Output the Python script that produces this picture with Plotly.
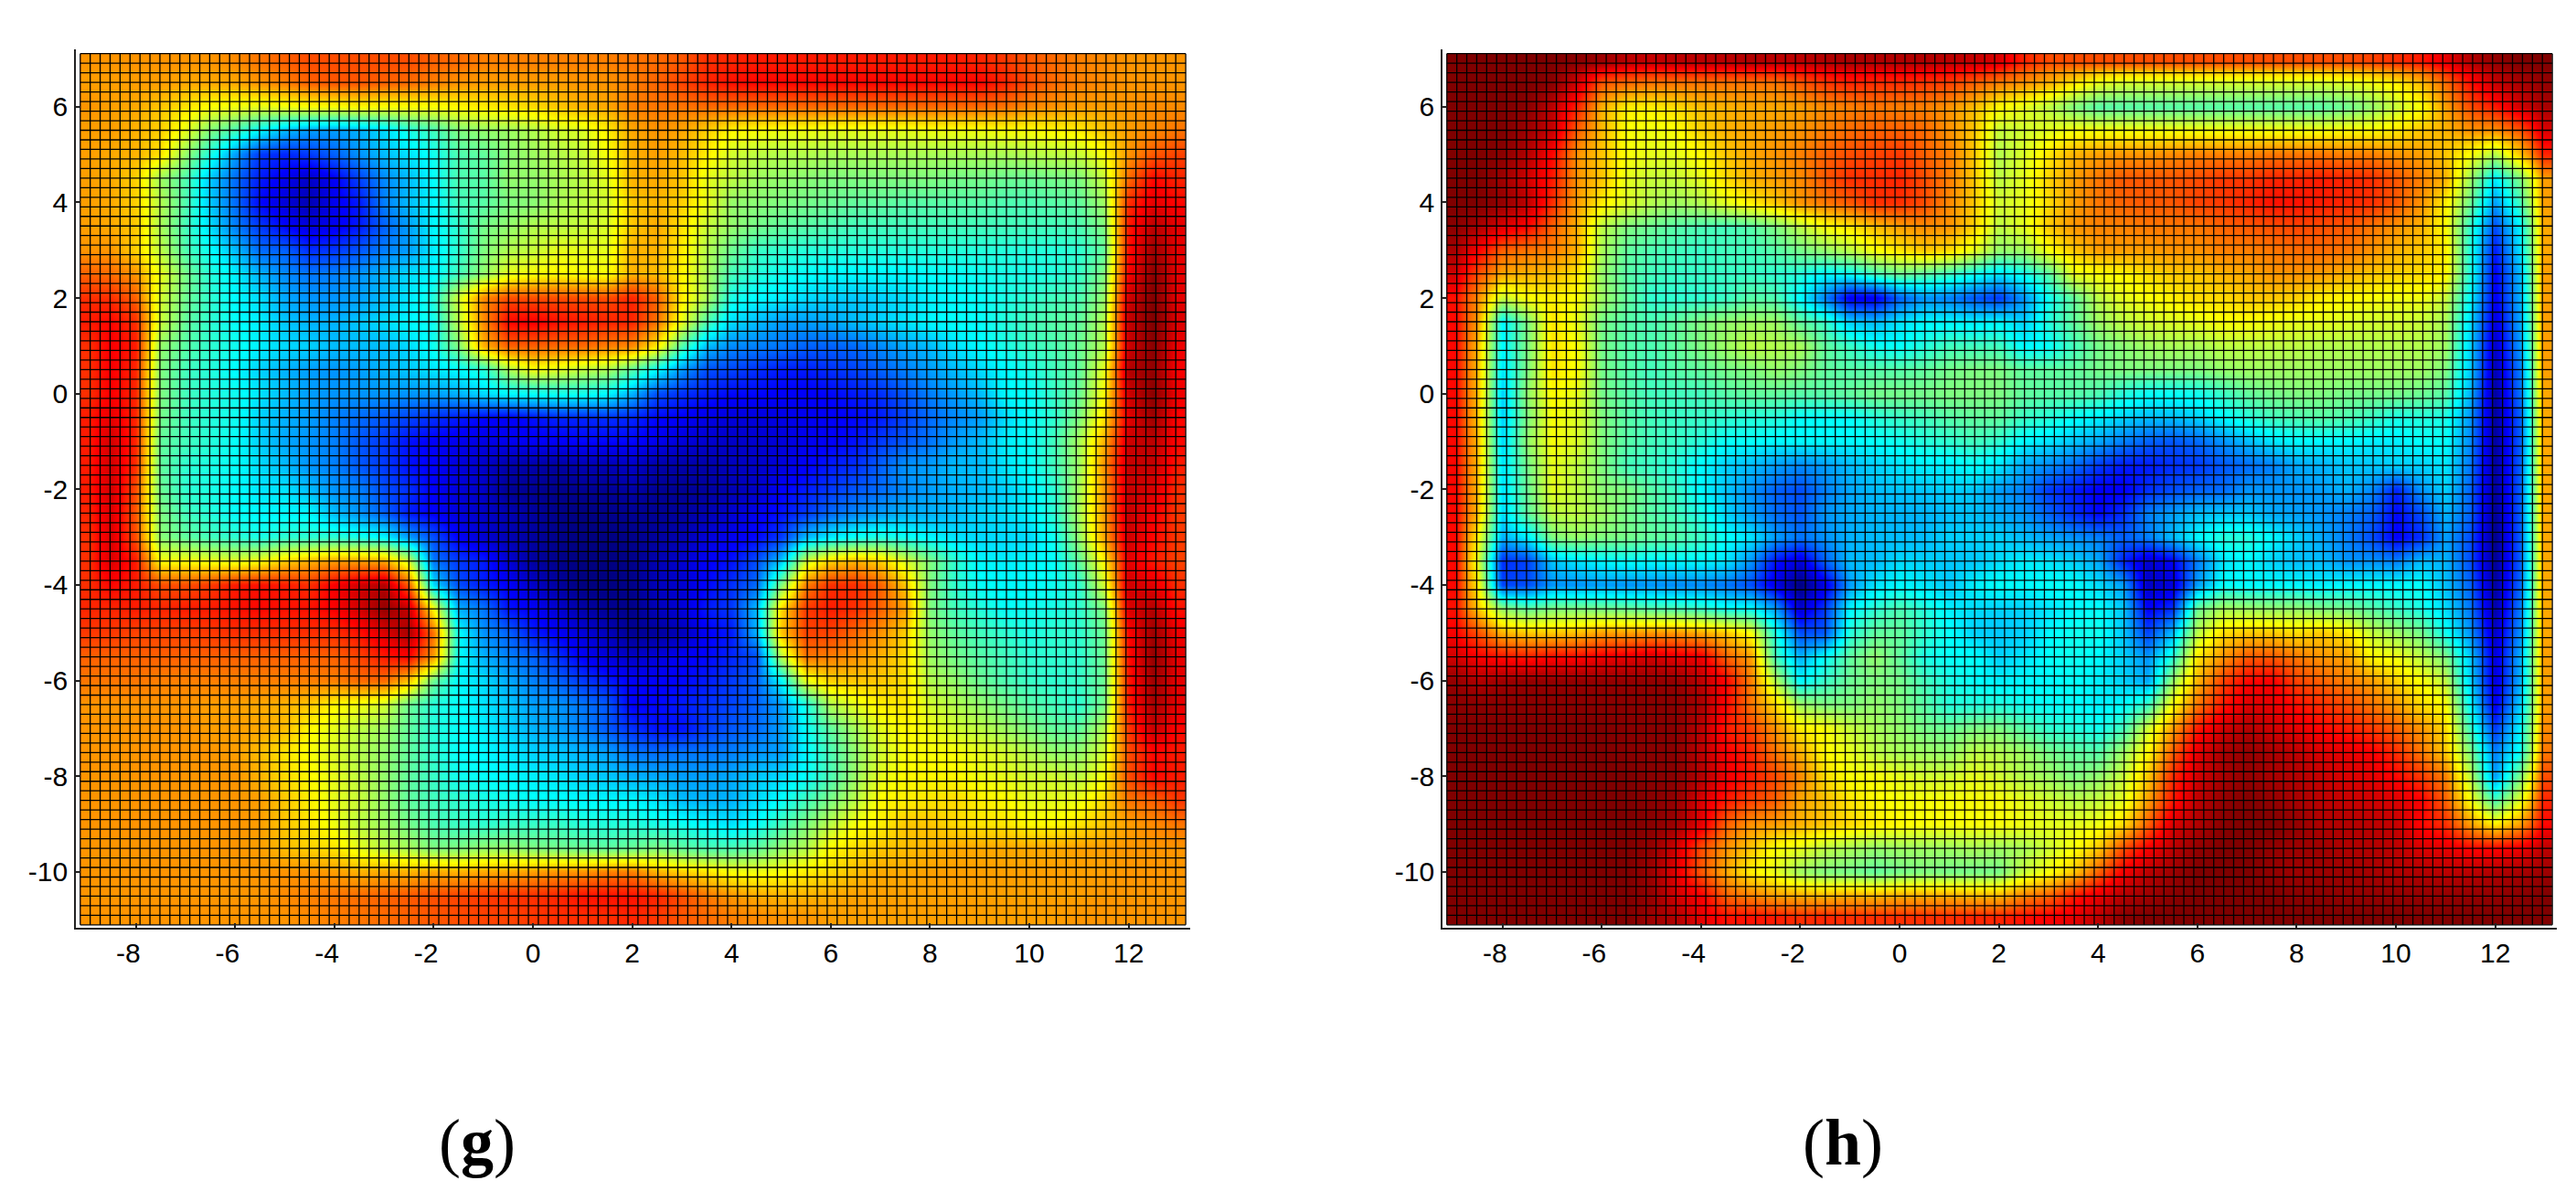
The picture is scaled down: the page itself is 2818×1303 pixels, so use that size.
import numpy as np
import plotly.graph_objects as go

FIG_W, FIG_H = 2818, 1303

tick_x = [-8, -6, -4, -2, 0, 2, 4, 6, 8, 10, 12]
tick_y = [-10, -8, -6, -4, -2, 0, 2, 4, 6]
sample_x = [-9 + 0.5 * k for k in range(45)]
sample_y = [7 - 0.5 * k for k in range(37)]
labels = ["(<b>g</b>)", "(<b>h</b>)"]

# colour level read at each sample, top row first (y = 7 ... -11), left to right (x = -9 ... 13)
panel_g = [
[73,73,73,73,73,73,74,76,78,80,80,80,80,80,78,77,75,75,75,75,75,75,76, 77,79,83,84,85,85,85,85,85,85,85,85,85,84,82,79,77,75,74,73,73,73],
[72,72,72,72,71,71,71,73,75,78,79,79,78,77,75,73,72,72,72,72,73,73,75, 78,81,84,86,87,87,87,87,87,87,87,87,87,87,84,80,77,75,74,73,73,73],
[73,72,71,68,65,62,61,60,61,62,62,63,62,62,62,63,64,65,66,68,70,71,75, 76,76,77,77,77,77,77,77,77,77,77,77,77,77,76,74,73,72,72,73,74,74],
[72,72,70,67,60,50,44,37,31,28,28,30,34,40,44,50,52,53,55,58,59,64,71, 73,71,67,63,62,61,61,60,60,60,60,61,61,61,62,62,63,64,68,72,74,76],
[72,71,70,65,52,40,28,18,16,18,22,27,31,35,39,45,47,51,53,55,57,62,70, 72,69,64,58,56,55,55,54,54,54,54,54,54,54,54,55,56,57,62,73,79,81],
[72,71,67,53,45,32,23,15,11,7,12,19,26,31,38,45,46,52,52,54,56,60,70, 71,68,60,56,53,52,51,50,50,50,50,50,49,49,48,48,49,50,57,77,87,84],
[72,71,67,55,45,32,23,13,9,5,11,15,25,31,37,44,46,50,51,54,56,58,68, 70,67,60,52,51,50,49,48,47,47,46,46,46,46,45,45,46,47,53,83,90,87],
[72,71,68,54,44,34,25,18,13,9,11,15,22,28,37,42,49,52,55,56,57,59,68, 71,65,57,52,49,47,46,45,44,44,44,44,44,44,44,44,44,45,50,85,94,90],
[73,73,67,56,45,38,31,23,22,17,18,21,25,28,36,42,50,55,57,60,60,60,70, 70,64,55,48,43,42,41,41,41,41,41,41,41,41,41,41,41,42,47,86,97,90],
[78,77,73,60,49,41,36,30,26,24,25,27,30,34,37,44,52,60,62,63,62,62,70, 69,63,54,44,41,39,38,37,37,37,37,38,38,39,40,40,41,43,50,88,99,90],
[83,83,78,58,48,42,37,34,29,27,27,28,31,35,41,58,74,80,80,80,80,80,84, 78,64,54,40,37,36,34,33,32,33,34,36,37,38,40,42,44,45,52,92,100,90],
[85,87,83,57,47,42,38,36,32,30,30,32,34,37,39,56,74,87,88,86,85,84,84, 76,60,45,34,31,28,28,29,31,33,35,37,38,38,41,44,46,47,55,93,100,91],
[83,88,85,52,46,42,39,36,34,33,31,31,31,34,39,50,70,78,78,77,77,75,74, 64,45,31,26,25,24,22,22,23,26,29,31,35,37,40,43,45,48,55,92,99,89],
[83,88,84,50,44,41,37,33,30,28,27,28,30,32,35,37,41,54,61,59,56,54,46, 37,27,20,19,17,15,15,17,19,22,25,28,31,34,37,40,44,47,60,95,98,88],
[83,88,84,50,44,41,39,35,31,28,27,27,27,27,28,30,34,37,38,39,39,37,30, 20,17,15,13,13,12,12,13,15,17,21,25,28,31,37,38,43,48,62,92,99,89],
[85,90,84,49,44,41,39,33,30,28,25,23,21,19,17,15,13,12,14,16,16,17,16, 13,12,10,9,9,10,11,12,13,15,19,23,26,28,34,38,42,50,65,90,97,87],
[85,92,84,47,44,41,38,33,29,27,25,21,18,14,12,11,10,11,12,12,13,13,13, 11,9,8,7,8,9,11,12,14,18,21,24,28,31,36,38,44,54,70,92,94,87],
[85,92,83,47,42,40,38,34,31,27,25,21,18,14,12,9,7,4,4,3,5,5,7, 4,4,4,6,7,9,12,15,17,22,27,28,31,31,35,38,44,53,73,93,93,85],
[85,92,80,48,42,40,38,35,35,31,27,25,20,17,12,9,7,2,2,1,2,2,4, 2,2,3,5,7,12,15,18,21,23,26,28,30,31,33,36,42,54,72,93,91,83],
[84,91,79,50,44,41,38,37,37,37,31,27,22,15,12,9,7,5,3,1,0,1,2, 2,3,5,8,11,14,18,23,26,28,30,30,31,33,34,36,42,54,72,93,88,82],
[83,91,80,51,47,44,42,40,42,42,42,40,37,28,20,12,8,5,3,1,0,0,1, 3,5,9,11,13,18,31,36,39,41,39,37,35,34,34,34,39,52,71,92,87,82],
[83,91,85,62,62,61,60,62,67,70,72,72,71,58,24,18,15,8,3,1,0,0,1, 5,8,12,14,20,32,58,67,70,67,59,50,42,37,36,37,38,47,63,90,85,81],
[83,87,85,80,80,82,85,86,85,83,88,92,95,78,34,20,15,12,7,3,0,0,1, 6,8,13,17,23,50,75,83,83,78,68,50,42,38,37,37,39,42,58,92,90,83],
[84,84,85,84,85,85,86,87,86,86,88,92,98,93,62,30,24,14,12,8,4,2,1, 6,9,15,18,31,66,82,85,83,78,72,50,44,41,38,39,40,42,50,91,95,86],
[82,82,81,81,81,82,83,83,83,83,83,86,91,96,76,38,27,22,15,12,9,6,2, 3,6,12,15,30,68,81,81,77,73,67,52,47,44,42,40,42,42,48,87,97,89],
[78,78,78,78,78,78,78,78,78,78,78,81,85,87,72,38,30,25,22,17,12,9,7, 9,12,13,16,20,55,76,75,73,70,66,53,49,46,44,42,42,42,48,86,98,90],
[76,76,76,75,75,75,75,75,75,75,75,77,77,68,48,37,34,29,25,22,18,15,12, 12,13,15,18,22,37,60,67,68,68,66,55,52,48,45,43,42,43,48,85,97,90],
[73,73,73,73,73,72,72,71,70,68,63,61,58,48,41,38,35,32,28,27,24,21,12, 13,15,17,19,22,28,40,55,60,64,65,58,55,52,49,46,44,42,49,85,96,90],
[73,73,73,73,73,72,72,71,69,63,60,56,53,47,41,38,36,33,30,28,25,21,17, 14,14,18,21,23,28,38,47,54,60,63,61,58,56,53,50,47,47,55,82,93,87],
[73,73,73,73,73,73,72,69,65,62,59,55,52,47,42,38,37,35,33,32,30,28,24, 23,24,24,25,27,28,37,45,52,58,62,62,62,60,58,55,52,52,58,80,87,85],
[73,73,73,73,73,73,73,70,66,63,60,56,52,47,43,39,38,37,36,35,33,32,30, 29,28,28,29,32,34,38,45,53,60,63,63,63,61,60,58,58,56,62,80,87,85],
[73,73,73,73,73,73,73,72,68,64,60,57,52,47,44,42,40,39,38,38,37,37,37, 35,31,30,30,34,38,44,50,56,63,64,65,66,64,63,60,60,61,66,76,78,82],
[73,73,73,73,73,73,73,72,68,65,61,56,53,49,45,43,42,43,43,43,41,41,41, 40,39,37,35,38,44,50,56,62,64,68,68,66,65,65,63,63,65,68,72,74,76],
[73,73,73,73,73,73,73,72,69,67,65,60,56,54,50,50,52,52,50,49,48,47,48, 50,47,45,45,47,52,55,63,66,68,69,70,71,71,71,71,71,72,72,73,73,73],
[73,73,73,73,73,73,73,73,73,73,72,70,71,70,71,70,71,71,72,73,73,75,75, 70,67,65,62,61,62,64,66,69,71,71,72,72,72,72,72,72,72,72,73,73,73],
[73,73,73,73,73,73,73,73,74,75,76,77,78,79,80,81,82,83,83,84,86,86,86, 84,80,76,73,71,70,70,71,72,72,72,72,72,72,72,72,72,72,73,73,73,73],
[73,73,73,73,73,73,73,73,73,74,75,76,77,78,79,80,81,81,82,83,83,83,84, 82,79,77,75,74,73,73,72,72,72,72,72,72,72,72,72,72,73,73,73,73,73],
]

panel_h = [
[100,100,100,100,100,99,97,94,93,94,94,94,95,94,94,95,96,95,95,95,94,93,91, 84,80,80,80,80,80,80,80,80,80,80,80,80,80,81,83,85,90,95,98,100,100],
[100,100,100,100,99,92,79,77,76,76,76,76,76,76,79,82,84,83,83,82,81,78,75, 73,70,65,60,58,58,58,58,58,58,58,58,58,59,61,64,69,77,86,93,96,98],
[100,100,100,99,94,84,70,64,64,66,69,70,71,71,72,74,75,76,75,75,73,69,63, 60,56,50,46,46,46,46,46,46,46,46,46,46,48,52,57,62,72,80,85,92,96],
[100,100,100,97,93,78,69,62,61,62,67,70,71,72,73,75,77,78,78,77,73,68,57, 58,60,62,62,62,62,62,62,62,62,62,62,62,63,63,65,68,70,73,73,79,91],
[100,100,99,95,87,73,68,62,60,60,63,68,71,73,75,78,80,81,82,78,75,68,55, 59,65,70,72,73,73,74,75,75,75,76,76,76,75,75,73,72,68,62,55,68,84],
[100,100,97,92,85,73,68,60,57,57,60,66,70,72,74,79,83,83,84,80,75,68,56, 60,67,72,76,79,79,79,80,82,82,84,84,85,84,83,79,75,70,53,36,50,72],
[100,100,98,94,83,72,64,59,55,53,55,60,64,68,73,76,79,83,83,80,74,68,58, 60,66,72,76,78,79,79,81,82,84,86,86,85,84,83,79,73,64,48,28,44,72],
[99,96,91,87,78,70,56,50,48,46,45,44,46,50,56,62,65,69,72,74,73,67,56, 60,68,73,75,75,76,76,76,78,79,80,81,80,79,76,73,70,62,42,20,37,71],
[96,88,78,76,75,70,54,47,45,44,43,44,44,46,49,52,56,62,65,68,66,60,52, 53,62,68,72,72,72,73,73,75,75,76,77,77,76,73,70,68,64,40,15,35,71],
[92,80,71,70,69,65,52,46,44,43,43,43,43,42,41,37,38,44,48,46,43,39,35, 39,46,60,62,63,66,68,68,70,71,73,73,72,70,68,67,66,63,40,12,31,72],
[86,74,57,62,64,62,53,47,42,42,42,43,46,45,37,25,11,11,22,27,25,21,18, 27,39,47,56,60,62,64,66,66,68,68,67,64,63,62,61,61,57,37,11,30,72],
[87,72,37,50,65,60,49,46,45,47,50,52,53,53,47,43,33,31,35,37,37,36,37, 33,41,47,53,56,58,59,60,62,62,61,60,60,59,58,58,57,54,34,9,29,72],
[87,69,37,50,65,62,49,46,45,47,50,53,56,55,54,47,43,39,38,41,44,44,44, 37,38,44,49,51,53,54,54,56,56,56,56,55,55,55,55,55,53,33,7,28,72],
[87,69,35,50,65,62,49,46,44,46,47,49,50,52,50,47,46,46,46,47,49,50,50, 47,47,47,49,50,50,50,50,52,53,53,53,53,53,53,53,53,50,32,5,25,72],
[87,69,33,52,63,60,49,46,44,44,44,46,47,47,46,46,47,49,49,49,50,50,50, 47,46,46,45,41,38,38,39,43,47,49,50,50,49,49,49,48,46,30,3,24,71],
[87,68,33,50,62,59,50,46,44,43,43,42,41,41,38,38,38,41,43,44,46,47,47, 43,41,38,36,33,31,31,33,37,41,44,45,46,45,43,40,41,40,27,3,22,71],
[87,69,34,52,62,59,50,46,44,43,41,38,38,37,37,37,37,38,39,41,42,44,42, 37,35,32,29,25,22,21,23,27,31,35,37,37,37,36,36,38,38,26,3,22,71],
[87,69,35,49,60,56,50,44,43,41,37,33,31,28,26,28,31,33,35,36,36,38,35, 29,26,23,18,15,15,17,18,21,23,25,29,30,32,32,33,33,35,24,3,22,71],
[87,69,35,48,60,56,51,50,46,43,37,32,27,22,20,25,29,31,32,32,33,32,28, 25,18,15,12,12,17,20,22,23,27,27,27,28,30,26,16,27,33,22,3,22,71],
[87,69,34,47,56,56,53,49,46,44,40,33,28,23,21,27,29,30,30,30,31,31,29, 27,22,17,13,17,25,28,31,32,32,29,28,27,25,22,13,20,30,22,2,22,71],
[87,63,30,36,50,52,50,49,47,46,43,38,35,28,24,27,30,31,31,31,33,33,33, 31,29,27,25,22,25,31,37,41,41,37,33,29,25,20,12,17,28,20,1,22,71],
[87,60,17,19,32,35,37,38,37,37,37,35,27,14,9,22,31,31,34,33,32,32,34, 36,35,33,29,16,8,12,25,35,37,33,31,31,27,27,25,31,30,20,2,22,71],
[87,64,19,20,27,27,28,27,27,26,26,24,20,10,0,10,28,35,37,35,32,36,38, 37,38,38,34,28,7,9,28,38,37,37,37,36,37,37,37,38,31,22,3,23,71],
[86,68,52,47,50,50,49,48,46,45,43,39,38,28,8,18,37,42,45,41,36,34,33, 33,35,37,38,32,12,17,48,54,53,52,52,50,49,46,43,40,34,24,4,25,71],
[88,80,70,68,68,69,72,72,73,73,71,68,62,40,20,21,41,47,47,42,38,33,32, 33,37,39,39,32,19,31,56,66,68,68,66,68,65,57,53,49,39,27,7,27,71],
[92,88,86,85,87,87,89,90,92,90,89,78,72,44,30,38,47,52,47,40,38,38,33, 35,38,39,37,33,27,41,65,73,79,79,76,73,72,63,61,56,50,32,9,30,72],
[98,95,97,98,98,98,98,98,98,98,94,87,75,55,37,43,48,50,49,44,40,38,36, 37,37,38,36,33,29,52,70,81,87,88,81,78,75,72,67,62,56,33,9,30,72],
[99,99,99,99,99,99,99,99,99,99,96,87,76,66,53,50,50,52,50,46,41,41,41, 39,38,38,36,37,43,62,76,85,91,90,86,83,80,76,72,66,62,37,11,33,72],
[100,100,100,100,100,100,100,99,99,99,94,85,81,73,64,62,57,54,52,49,48,50,50, 46,42,41,39,44,58,72,85,92,95,92,90,87,85,82,78,73,66,43,18,37,74],
[100,100,100,100,100,100,100,99,99,99,94,88,84,76,70,63,60,56,54,53,52,56,55, 53,49,47,46,53,63,78,90,96,98,96,94,91,90,88,83,76,68,50,25,39,76],
[100,100,100,100,100,100,100,100,99,99,95,89,85,80,74,66,62,62,60,58,58,60,58, 55,53,50,52,57,68,83,92,96,98,96,95,93,91,90,87,82,75,56,28,50,80],
[100,100,100,100,100,100,100,100,99,98,91,85,81,78,71,69,65,63,62,62,62,62,62, 60,58,56,57,60,72,85,94,98,100,98,96,94,93,92,91,88,78,62,45,60,84],
[100,100,100,100,100,100,100,100,99,97,90,78,73,72,70,68,66,64,63,62,62,62,62, 61,60,60,61,66,78,91,95,99,100,100,98,95,95,94,93,87,83,72,64,72,87],
[100,100,100,100,100,100,100,100,98,92,80,73,68,62,60,56,54,52,53,53,53,54,53, 54,58,62,68,80,88,94,98,100,100,98,97,97,95,95,94,91,90,87,87,89,94],
[100,100,100,100,100,100,100,100,97,90,79,71,64,60,53,50,49,47,49,50,49,49,49, 57,62,68,78,88,94,97,100,100,100,98,97,97,97,96,95,95,94,94,95,96,97],
[100,100,100,100,100,100,100,100,98,92,88,78,75,72,71,70,71,70,71,71,71,70,70, 75,78,85,90,95,97,99,100,100,100,100,99,99,98,98,98,98,98,98,98,99,100],
[100,100,100,100,100,100,100,100,97,95,90,86,86,85,83,84,83,83,83,83,83,84,84, 86,88,90,94,99,100,100,100,100,100,100,100,100,100,100,100,100,100,100,100,100,100],
]

bad = [(n, i, len(r)) for n, m in (("g", panel_g), ("h", panel_h)) for i, r in enumerate(m) if len(r) != 45]
assert not bad and len(panel_g) == 37 and len(panel_h) == 37, bad

JET = [[0, "#000080"], [0.125, "#0000ff"], [0.375, "#00ffff"], [0.5, "#80ff80"],
       [0.625, "#ffff00"], [0.875, "#ff0000"], [1, "#800000"]]

X_LO, X_HI, Y_LO, Y_HI = -9.12, 13.15, -11.11, 7.11   # coloured area
N_COLS, N_ROWS = 111, 91                              # mesh cells

def edges(centres, lo, hi):
    c = np.sort(np.asarray(centres, float))
    return np.concatenate([[lo], (c[1:] + c[:-1]) / 2, [hi]])

def mesh():
    xs, ys = [], []
    for v in np.linspace(X_LO, X_HI, N_COLS + 1):
        xs += [v, v, None]; ys += [Y_LO, Y_HI, None]
    for v in np.linspace(Y_LO, Y_HI, N_ROWS + 1):
        xs += [X_LO, X_HI, None]; ys += [v, v, None]
    return xs, ys

fig = go.Figure()
mx, my = mesh()
for name, rows, xa, ya in (("g", panel_g, "x", "y"), ("h", panel_h, "x2", "y2")):
    fig.add_trace(go.Heatmap(
        z=np.array(rows)[::-1], x=edges(sample_x, X_LO, X_HI), y=edges(sample_y, Y_LO, Y_HI),
        colorscale=JET, zmin=0, zmax=100, zsmooth="best", showscale=False,
        hoverinfo="skip", xaxis=xa, yaxis=ya, name=name))
    fig.add_trace(go.Scatter(
        x=mx, y=my, mode="lines", line=dict(color="#000000", width=1.3),
        hoverinfo="skip", showlegend=False, xaxis=xa, yaxis=ya))

def px_x(a, b):
    return [a / FIG_W, b / FIG_W]

FONT = dict(family="Liberation Sans, Arial, sans-serif", size=30, color="#000000")
common = dict(showgrid=False, zeroline=False, showline=True, linecolor="#222222", linewidth=1.6,
              ticks="inside", ticklen=5, tickwidth=1.5, tickcolor="#222222", tickfont=FONT, mirror=False)
x_text = [(str(v) + "\u00a0\u00a0") if v < 0 else str(v) for v in tick_x]
y_text = [str(v) for v in tick_y]
y_dom = [1 - 1015 / FIG_H, 1 - 54 / FIG_H]

fig.update_layout(
    width=FIG_W, height=FIG_H, autosize=False, margin=dict(l=0, r=0, t=0, b=0),
    paper_bgcolor="white", plot_bgcolor="white", showlegend=False,
    xaxis=dict(domain=px_x(83, 1302), range=[-9.208, 13.24], tickvals=tick_x, ticktext=x_text,
               anchor="y", ticklabelstandoff=0, **common),
    yaxis=dict(domain=y_dom, range=[-11.17, 7.2], tickvals=tick_y, ticktext=y_text,
               anchor="x", ticklabelstandoff=1, **common),
    xaxis2=dict(domain=px_x(1578, 2797), range=[-9.208, 13.24], tickvals=tick_x, ticktext=x_text,
                anchor="y2", ticklabelstandoff=0, **common),
    yaxis2=dict(domain=y_dom, range=[-11.17, 7.2], tickvals=tick_y, ticktext=y_text,
                anchor="x2", ticklabelstandoff=1, **common),
    annotations=[
        dict(text=labels[0], x=522 / FIG_W, y=1 - 1250 / FIG_H, xref="paper", yref="paper",
             showarrow=False, xanchor="center", yanchor="middle",
             font=dict(family="Liberation Serif, serif", size=72, color="black")),
        dict(text=labels[1], x=2016 / FIG_W, y=1 - 1250 / FIG_H, xref="paper", yref="paper",
             showarrow=False, xanchor="center", yanchor="middle",
             font=dict(family="Liberation Serif, serif", size=72, color="black")),
    ],
)
fig.write_html("out.html", config={"displayModeBar": False},
               post_script="document.body.style.margin='0';")
